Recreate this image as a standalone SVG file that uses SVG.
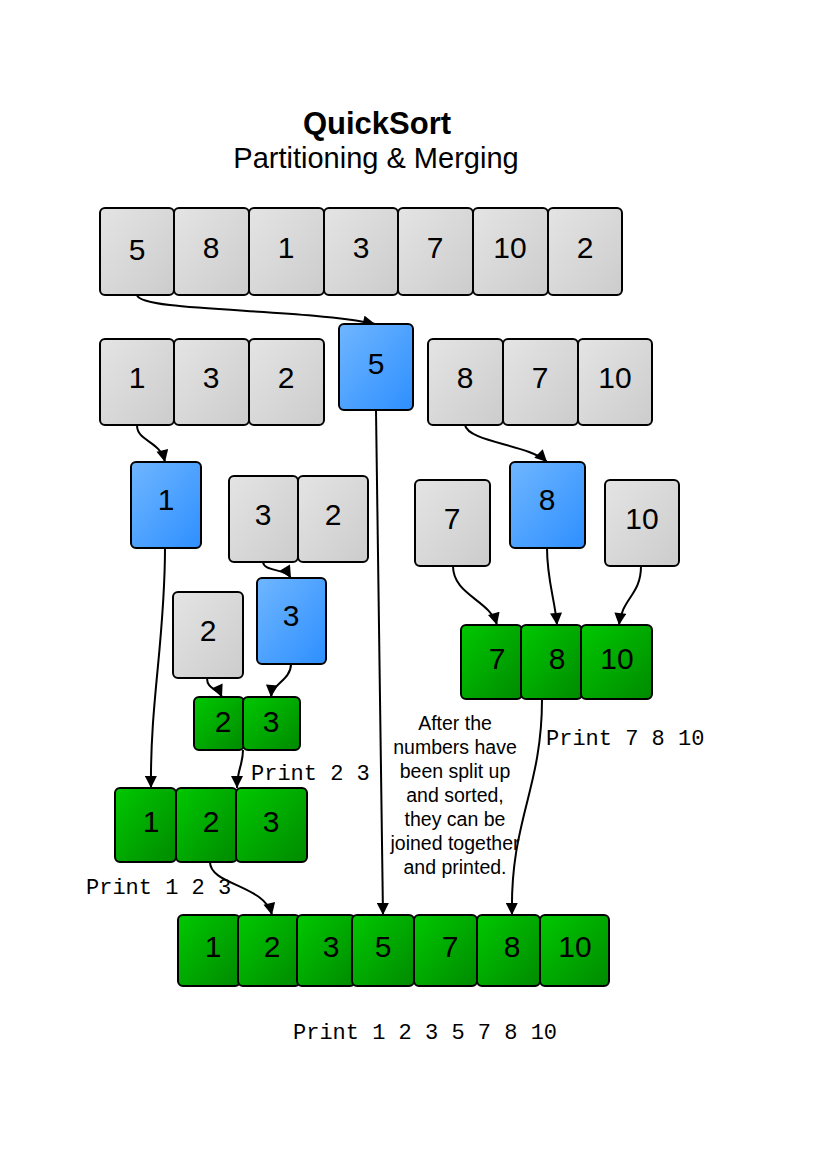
<svg xmlns="http://www.w3.org/2000/svg" width="823" height="1165" viewBox="0 0 823 1165">
<defs>
<linearGradient id="gg" x1="0" y1="0" x2="1" y2="1"><stop offset="0" stop-color="#e4e4e4"/><stop offset="1" stop-color="#cccccc"/></linearGradient>
<linearGradient id="gb" x1="0" y1="0" x2="1" y2="1"><stop offset="0" stop-color="#6fb6ff"/><stop offset="1" stop-color="#2e8fff"/></linearGradient>
<linearGradient id="gn" x1="0" y1="0" x2="1" y2="1"><stop offset="0" stop-color="#00c800"/><stop offset="1" stop-color="#008a00"/></linearGradient>
<marker id="ah" viewBox="0 0 10 10" refX="10" refY="5" markerWidth="14" markerHeight="12" markerUnits="userSpaceOnUse" orient="auto"><path d="M0,0 L10,5 L0,10 z" fill="#000"/></marker>
</defs>
<style>
rect{stroke:#000;stroke-width:2;rx:5;ry:5}
.g rect{fill:url(#gg)}.b rect{fill:url(#gb)}.n rect{fill:url(#gn)}
text{font-family:"Liberation Sans",Arial,sans-serif;fill:#000}
.v{font-size:30px;text-anchor:middle}
.m{font-family:"Liberation Mono","Courier New",monospace;font-size:22px}
.t{font-size:19.5px;text-anchor:middle}
#conn path{fill:none;stroke:#000;stroke-width:2;marker-end:url(#ah)}
</style>
<rect x="0" y="0" width="823" height="1165" fill="#fff" style="stroke:none"/>
<text x="377" y="134" text-anchor="middle" font-size="31" font-weight="bold">QuickSort</text>
<text x="376" y="168" text-anchor="middle" font-size="29">Partitioning &amp; Merging</text>
<g id="conn">
<path d="M137,295 C140,312 300,308 375,324"/>
<path d="M137,425 C137,442 160,440 165,462"/>
<path d="M376,410 L383,915"/>
<path d="M465,425 C468,442 530,445 547,462"/>
<path d="M165,548 C165,640 150,700 151,788"/>
<path d="M263,562 C264,572 285,568 291,578"/>
<path d="M453,566 C453,595 490,600 497,625"/>
<path d="M547,548 C547,580 555,600 557,625"/>
<path d="M641,566 C641,595 622,598 619,625"/>
<path d="M207,678 C207,690 218,688 222,697"/>
<path d="M291,664 C291,680 272,684 271,697"/>
<path d="M243,750 C243,765 237,770 237,788"/>
<path d="M542,699 C542,790 510,820 512,915"/>
<path d="M210,862 C210,885 265,885 272,915"/>
</g>
<g id="row1" class="g">
<rect x="100" y="208" width="74" height="87"/><text class="v" x="137" y="260" font-size="35">5</text>
<rect x="174" y="208" width="75" height="87"/><text class="v" x="211" y="258">8</text>
<rect x="249" y="208" width="75" height="87"/><text class="v" x="286" y="258">1</text>
<rect x="324" y="208" width="74" height="87"/><text class="v" x="361" y="258">3</text>
<rect x="398" y="208" width="75" height="87"/><text class="v" x="435" y="258">7</text>
<rect x="473" y="208" width="75" height="87"/><text class="v" x="510" y="258">10</text>
<rect x="548" y="208" width="74" height="87"/><text class="v" x="585" y="258">2</text>
</g>
<g id="pivot5" class="b"><rect x="339" y="324" width="74" height="86"/><text class="v" x="376" y="374">5</text></g>
<g id="left132" class="g">
<rect x="100" y="339" width="74" height="86"/><text class="v" x="137" y="388">1</text>
<rect x="174" y="339" width="75" height="86"/><text class="v" x="211" y="388">3</text>
<rect x="249" y="339" width="75" height="86"/><text class="v" x="286" y="388">2</text>
</g>
<g id="right8710" class="g">
<rect x="428" y="339" width="75" height="86"/><text class="v" x="465" y="388">8</text>
<rect x="503" y="339" width="75" height="86"/><text class="v" x="540" y="388">7</text>
<rect x="578" y="339" width="74" height="86"/><text class="v" x="615" y="388">10</text>
</g>
<g id="pivot1" class="b"><rect x="131" y="462" width="70" height="86"/><text class="v" x="166" y="510">1</text></g>
<g id="sub32" class="g">
<rect x="229" y="476" width="69" height="86"/><text class="v" x="263" y="525">3</text>
<rect x="298" y="476" width="70" height="86"/><text class="v" x="333" y="525">2</text>
</g>
<g id="n7" class="g"><rect x="415" y="480" width="75" height="86"/><text class="v" x="452" y="529">7</text></g>
<g id="pivot8" class="b"><rect x="510" y="462" width="75" height="86"/><text class="v" x="547" y="510">8</text></g>
<g id="n10" class="g"><rect x="605" y="480" width="74" height="86"/><text class="v" x="642" y="529">10</text></g>
<g id="n2" class="g"><rect x="173" y="592" width="70" height="86"/><text class="v" x="208" y="641">2</text></g>
<g id="pivot3" class="b"><rect x="257" y="578" width="69" height="86"/><text class="v" x="291" y="626">3</text></g>
<g id="m23" class="n">
<rect x="194" y="697" width="50" height="53"/><text class="v" x="223" y="732">2</text>
<rect x="243" y="697" width="57" height="53"/><text class="v" x="271" y="732">3</text>
</g>
<g id="m7810" class="n">
<rect x="461" y="625" width="61" height="74"/><text class="v" x="497" y="669">7</text>
<rect x="521" y="625" width="61" height="74"/><text class="v" x="557" y="669">8</text>
<rect x="581" y="625" width="71" height="74"/><text class="v" x="617" y="669">10</text>
</g>
<g id="m123" class="n">
<rect x="115" y="788" width="61" height="74"/><text class="v" x="151" y="832">1</text>
<rect x="176" y="788" width="61" height="74"/><text class="v" x="211" y="832">2</text>
<rect x="236" y="788" width="71" height="74"/><text class="v" x="271" y="832">3</text>
</g>
<g id="final" class="n">
<rect x="178" y="915" width="62" height="71"/><text class="v" x="213" y="957">1</text>
<rect x="238" y="915" width="62" height="71"/><text class="v" x="272" y="957">2</text>
<rect x="297" y="915" width="58" height="71"/><text class="v" x="331" y="957">3</text>
<rect x="352" y="915" width="62" height="71"/><text class="v" x="383" y="957">5</text>
<rect x="414" y="915" width="63" height="71"/><text class="v" x="450" y="957">7</text>
<rect x="477" y="915" width="63" height="71"/><text class="v" x="512" y="957">8</text>
<rect x="540" y="915" width="69" height="71"/><text class="v" x="575" y="957">10</text>
</g>
<text class="m" x="251" y="780">Print 2 3</text>
<text class="m" x="546" y="745">Print 7 8 10</text>
<text class="m" x="86" y="894">Print 1 2 3</text>
<text class="m" x="293" y="1039">Print 1 2 3 5 7 8 10</text>
<g id="note">
<text class="t" x="455" y="730">After the</text>
<text class="t" x="455" y="754">numbers have</text>
<text class="t" x="455" y="778">been split up</text>
<text class="t" x="455" y="802">and sorted,</text>
<text class="t" x="455" y="826">they can be</text>
<text class="t" x="455" y="850">joined together</text>
<text class="t" x="455" y="874">and printed.</text>
</g>
</svg>
